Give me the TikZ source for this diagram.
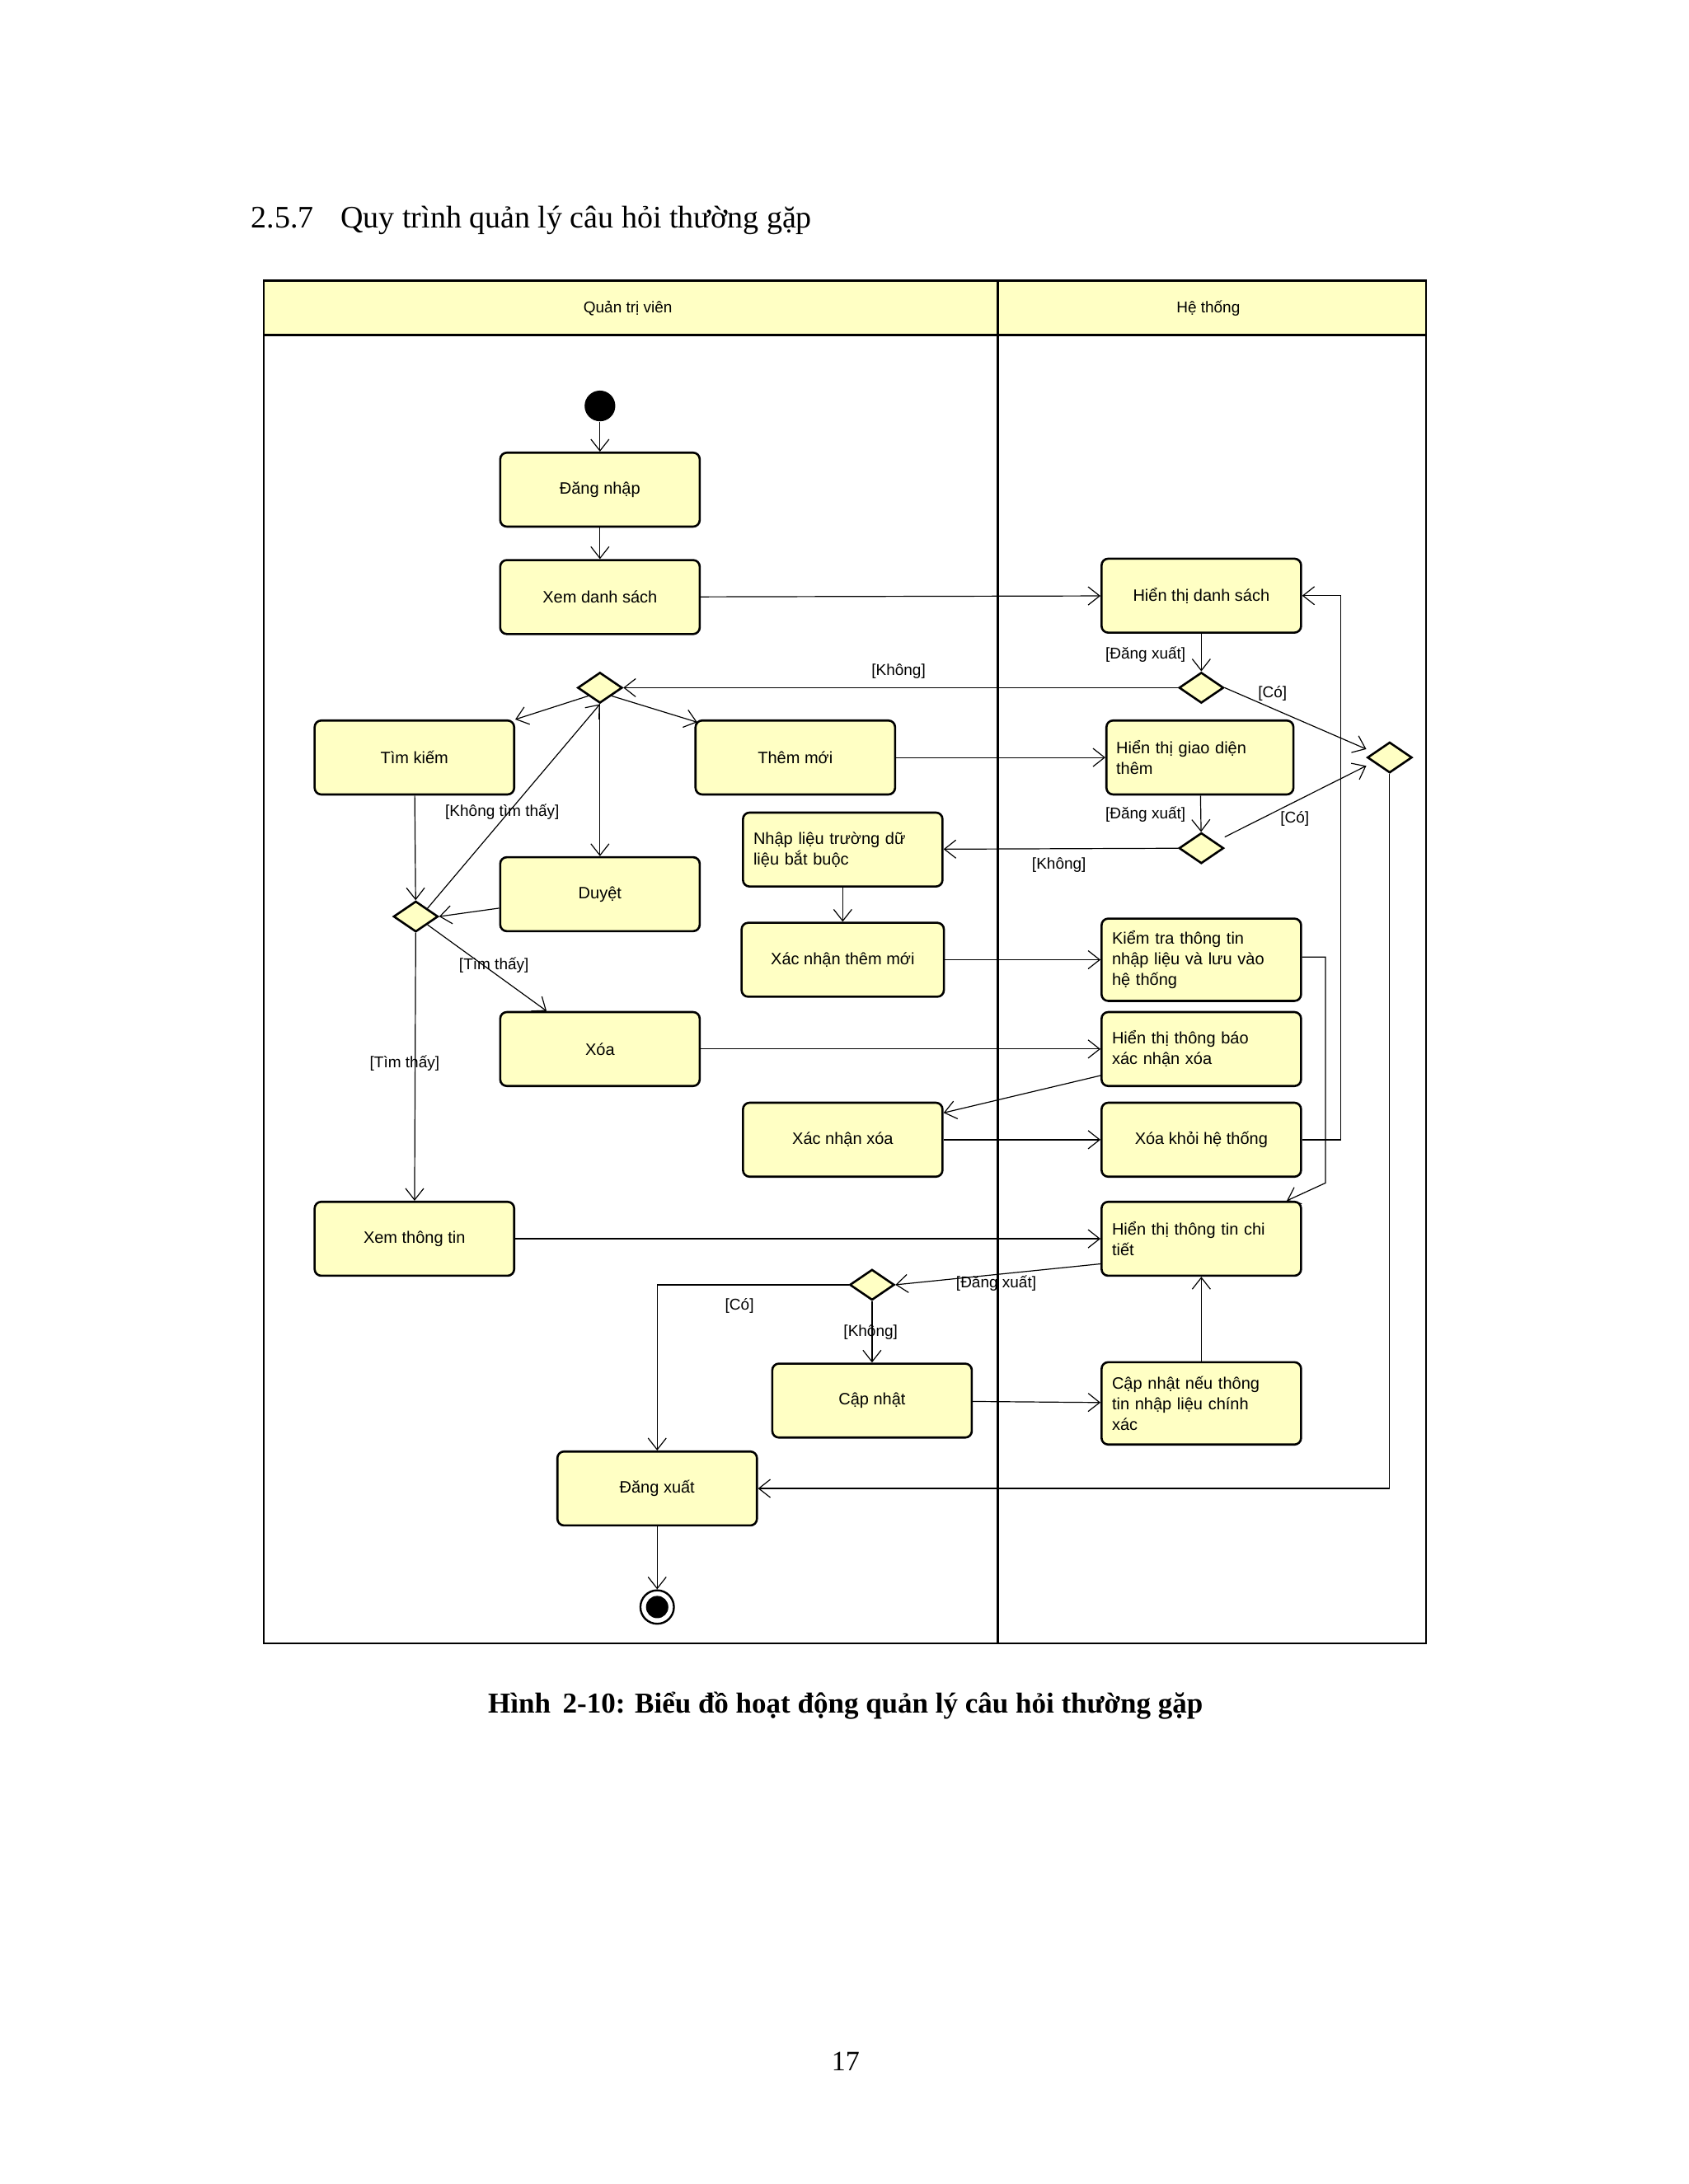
\documentclass[tikz,border=0pt]{standalone}
\usepackage{fontspec}
\setmainfont{Liberation Serif}
\newfontfamily\diag{Liberation Sans}
\usetikzlibrary{shapes.geometric,arrows.meta,calc}
\begin{document}
\begin{tikzpicture}[x=0.8463pt,y=-0.8463pt,
  box/.style={draw,line width=1.3pt,rounded corners=4pt,fill=actfill,minimum width={143*0.8463pt},minimum height={53*0.8463pt},font=\diag\fontsize{10}{12.5}\selectfont,inner sep=2pt},
  lbox/.style={box,align=left,text width={128*0.8463pt}},
  dia/.style={draw,line width=1.3pt,diamond,fill=actfill,minimum width={32*0.8463pt},minimum height={22*0.8463pt},inner sep=0pt},
  lab/.style={font=\diag\fontsize{9.5}{11}\selectfont,inner sep=1pt},
  ar/.style={-{Straight Barb[length=7pt,width=11pt]},line width=0.6pt},
  ln/.style={line width=0.6pt}]
\definecolor{actfill}{HTML}{FFFFC4}
\definecolor{hdr}{HTML}{FFFFC4}
\useasboundingbox (0,0) rectangle (1210,1565.6);
% title
\node[anchor=west,font=\fontsize{19}{22}\selectfont] (title) at (176,158) {2.5.7\hspace{0.6em} Quy trình quản lý câu hỏi thường gặp};
% frame
\fill[hdr] (189,201) rectangle (1022,240);
\draw[line width=1.4pt] (189,201) rectangle (1022,1178);
\draw[line width=1.4pt] (189,240) -- (1022,240);
\draw[line width=1.4pt] (715,201) -- (715,1178);
\node[lab] (h1) at (450,221) {Quản trị viên};
\node[lab] (h2) at (866,221) {Hệ thống};
% nodes
\node[circle,fill=black,minimum size={22*0.8463pt},inner sep=0pt] (start) at (430,291) {};
\node[box] (dangnhap) at (430,351) {Đăng nhập};
\node[box] (xemds) at (430,428) {Xem danh sách};
\node[box] (htds) at (861,427) {Hiển thị danh sách};
\node[dia] (d1) at (430,493) {};
\node[dia] (d2) at (861,493) {};
\node[box] (timkiem) at (297,543) {Tìm kiếm};
\node[box] (themmoi) at (570,543) {Thêm mới};
\node[lbox,minimum width={134*0.8463pt},text width={120*0.8463pt}] (htgd) at (860,543) {Hiển thị giao diện\\thêm};
\node[dia] (d3) at (996,543) {};
\node[dia] (d4) at (861,608) {};
\node[lbox] (nhaplieu) at (604,609) {Nhập liệu trường dữ\\liệu bắt buộc};
\node[box] (duyet) at (430,641) {Duyệt};
\node[dia] (d5) at (298,657) {};
\node[box,minimum width={145*0.8463pt}] (xnthem) at (604,688) {Xác nhận thêm mới};
\node[lbox,minimum height={59*0.8463pt}] (kiemtra) at (861,688) {Kiểm tra thông tin\\nhập liệu và lưu vào\\hệ thống};
\node[box] (xoa) at (430,752) {Xóa};
\node[lbox] (httb) at (861,752) {Hiển thị thông báo\\xác nhận xóa};
\node[box] (xnxoa) at (604,817) {Xác nhận xóa};
\node[box] (xoakhoi) at (861,817) {Xóa khỏi hệ thống};
\node[box] (xemtt) at (297,888) {Xem thông tin};
\node[lbox] (htct) at (861,888) {Hiển thị thông tin chi\\tiết};
\node[dia] (d6) at (625,921) {};
\node[box] (capnhat) at (625,1004) {Cập nhật};
\node[lbox,minimum height={59*0.8463pt}] (cnneu) at (861,1006) {Cập nhật nếu thông\\tin nhập liệu chính\\xác};
\node[box] (dangxuat) at (471,1067) {Đăng xuất};
\node[circle,draw,line width=1.2pt,minimum size={24*0.8463pt},inner sep=0pt] (endo) at (471,1152) {};
\node[circle,fill=black,minimum size={16*0.8463pt},inner sep=0pt] (endi) at (471,1152) {};
% edges
\draw[ar] (start) -- (dangnhap);
\draw[ar] (dangnhap) -- (xemds);
\draw[ar] (xemds) -- (htds);
\draw[ar] (htds) -- (d2);
\draw[ar] (d2) -- (d1);
\draw[ar] (d2.east) -- ($(d3.west)+(0,-6)$);
\draw[ar] (d1.south west) -- (timkiem.north east);
\draw[ar] (d1.south east) -- ($(themmoi.north west)+(2,2)$);
\draw[ar] (d1) -- (duyet);
\draw[ar] (themmoi) -- (htgd);
\draw[ar] (htgd) -- (d4);
\draw[ar] ($(d4.east)+(0,-8)$) -- ($(d3.west)+(0,6)$);
\draw[ar] (d4) -- (nhaplieu);
\draw[ar] (nhaplieu) -- (xnthem);
\draw[ar] (xnthem) -- (kiemtra);
\draw[ar] (timkiem) -- (d5);
\draw[ar] ($(duyet.west)+(0,10)$) -- (d5.east);
\draw[ar] (d5.north east) -- (d1.south);
\draw[ar] (d5.south east) -- ($(xoa.north west)+(34,0)$);
\draw[ar] (d5) -- (xemtt);
\draw[ar] (xoa) -- (httb);
\draw[ar] ($(httb.west)+(0,19)$) -- ($(xnxoa.north east)+(0,8)$);
\draw[ar] (xnxoa) -- (xoakhoi);
\draw[ar] (xoakhoi.east) -- (961,817) -- (961,427) -- (htds.east);
\draw[ar] ($(kiemtra.east)+(0,-2)$) -- (950,686) -- (950,848) -- ($(htct.north east)+(-11,0)$);
\draw[ar] (xemtt) -- (htct);
\draw[ar] ($(htct.west)+(0,18)$) -- (d6.east);
\draw[ar] (d6.west) -- (471,921) -- (dangxuat.north);
\draw[ar] (d6) -- (capnhat);
\draw[ar] (capnhat) -- (cnneu);
\draw[ar] (cnneu) -- (htct);
\draw[ar] (d3.south) -- (996,1067) -- (dangxuat.east);
\draw[ar] (dangxuat) -- (endo);
% labels
\node[lab] (l1) at (644,481) {[Không]};
\node[lab] (l2) at (821,469) {[Đăng xuất]};
\node[lab] (l3) at (912,497) {[Có]};
\node[lab] (l4) at (821,584) {[Đăng xuất]};
\node[lab] (l5) at (928,587) {[Có]};
\node[lab] (l6) at (759,620) {[Không]};
\node[lab] (l7) at (360,582) {[Không tìm thấy]};
\node[lab] (l8) at (354,692) {[Tìm thấy]};
\node[lab] (l9) at (290,762) {[Tìm thấy]};
\node[lab] (l10) at (714,920) {[Đăng xuất]};
\node[lab] (l11) at (530,936) {[Có]};
\node[lab] (l12) at (624,955) {[Không]};
% caption
\node[font=\bfseries\fontsize{17.5}{20}\selectfont] (cap) at (606,1223) {Hình\, 2-10: Biểu đồ hoạt động quản lý câu hỏi thường gặp};
\node[font=\fontsize{17}{20}\selectfont] (pg) at (606,1478) {17};
\end{tikzpicture}
\end{document}
